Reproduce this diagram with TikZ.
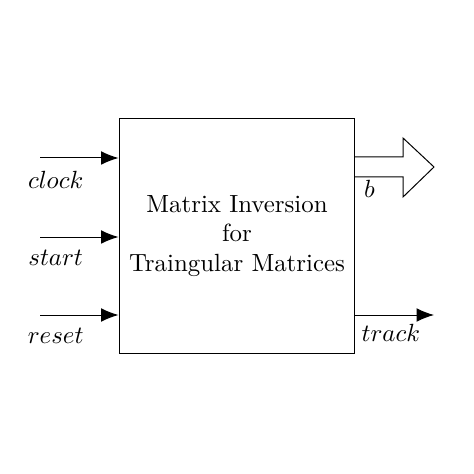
\documentclass[tikz,border=0pt]{standalone}
\usetikzlibrary{arrows.meta}

\begin{document}
\begin{tikzpicture}[x=0.4022pt, y=-0.4022pt,
    block/.style ={draw, minimum size=94.9pt, inner sep=0pt, align=center},
    signal/.style ={-{Latex[length=7pt, width=5.5pt]}},
    inlabel/.style ={pos=0.2, below, inner sep=5pt}]
   \useasboundingbox (0,0) rectangle (474,474);

   \node[block] (M) at (237,236) {Matrix Inversion\\for\\Traingular Matrices};

   \coordinate (clk) at (40,158);
   \coordinate (st)  at (40,237);
   \coordinate (rst) at (40,315);
   \coordinate (trk) at (434,315);

   \draw[signal] (clk) to node[inlabel] {$clock$} (clk -| M.west);
   \draw[signal] (st) to node[inlabel] {$start$} (st -| M.west);
   \draw[signal] (rst) to node[inlabel] {$reset$} (rst -| M.west);
   \draw[signal] (trk -| M.east) to node[pos=0.45, below] {$track$} (trk);

   % output bus b
   \draw (355,157) -- (403,157) -- (403,138) -- (434,167) -- (403,197) -- (403,177)
         -- node[pos=0.7, below, inner sep=1pt] {$b$} (355,177);
 \end{tikzpicture}
\end{document}
